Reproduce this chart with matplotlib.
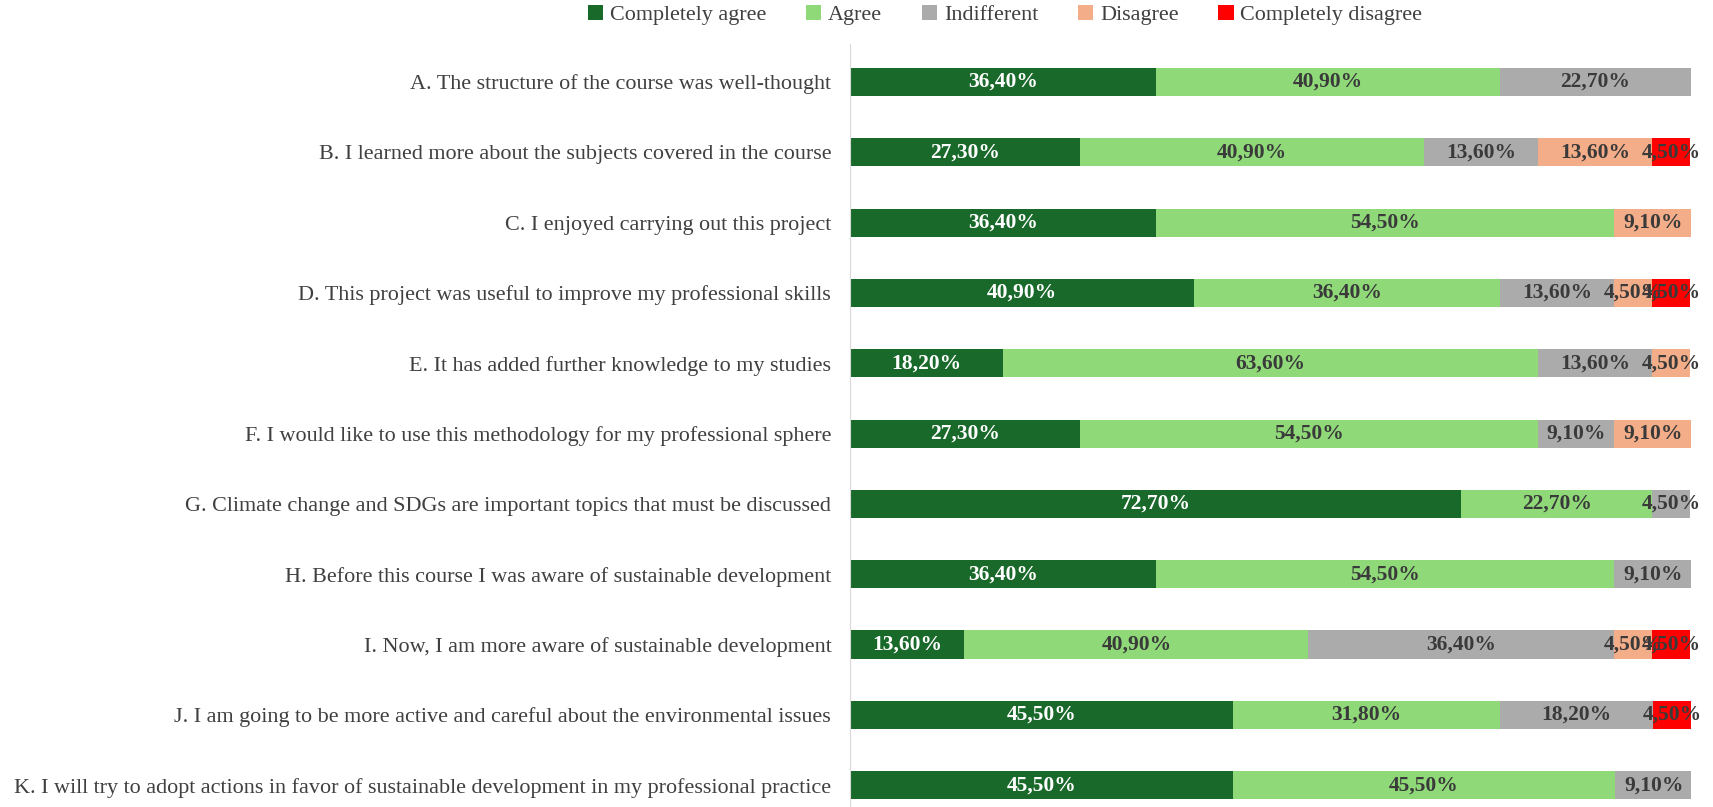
import matplotlib
matplotlib.use("Agg")
import matplotlib.pyplot as plt
import numpy as np

plt.rcParams['font.family'] = ['Liberation Serif', 'DejaVu Serif']

questions = [
    "A. The structure of the course was well-thought",
    "B. I learned more about the subjects covered in the course",
    "C. I enjoyed carrying out this project",
    "D. This project was useful to improve my professional skills",
    "E. It has added further knowledge to my studies",
    "F. I would like to use this methodology for my professional sphere",
    "G. Climate change and SDGs are important topics that must be discussed",
    "H. Before this course I was aware of sustainable development",
    "I. Now, I am more aware of sustainable development",
    "J. I am going to be more active and careful about the environmental issues",
    "K. I will try to adopt actions in favor of sustainable development in my professional practice",
]
categories = ["Completely agree", "Agree", "Indifferent", "Disagree", "Completely disagree"]

completely_agree = [36.4, 27.3, 36.4, 40.9, 18.2, 27.3, 72.7, 36.4, 13.6, 45.5, 45.5]
agree = [40.9, 40.9, 54.5, 36.4, 63.6, 54.5, 22.7, 54.5, 40.9, 31.8, 45.5]
indifferent = [22.7, 13.6, 0, 13.6, 13.6, 9.1, 4.5, 9.1, 36.4, 18.2, 9.1]
disagree = [0, 13.6, 9.1, 4.5, 4.5, 9.1, 0, 0, 4.5, 0, 0]
completely_disagree = [0, 4.5, 0, 4.5, 0, 0, 0, 0, 4.5, 4.5, 0]

colors = ["#19692a", "#8fd979", "#ababab", "#f3ad88", "#ff0000"]
text_colors = ["white", "#3a3a3a", "#3a3a3a", "#3a3a3a", "#3a3a3a"]

series = [completely_agree, agree, indifferent, disagree, completely_disagree]

fig = plt.figure(figsize=(17.13, 8.07), dpi=100)
ax = fig.add_axes([850 / 1713, 0.0, (1691 - 850) / 1713, 1 - 44 / 807])

y = np.arange(len(questions))
left = np.zeros(len(questions))
handles = []
for vals, col, tcol, name in zip(series, colors, text_colors, categories):
    vals = np.array(vals)
    h = ax.barh(y, vals, left=left, height=0.4, color=col, label=name)
    handles.append(h)
    for yi, v, l in zip(y, vals, left):
        if v > 0:
            ax.text(l + v / 2, yi, ("%.2f%%" % v).replace(".", ","),
                    ha="center", va="center", color=tcol,
                    fontsize=15.5, fontweight="bold")
    left = left + vals

ax.set_xlim(0, 100)
ax.set_ylim(10.31, -0.54)
ax.set_yticks(y)
ax.set_yticklabels(questions, fontsize=15.9, color="#404040")
ax.tick_params(axis="y", length=0, pad=13.5)
ax.set_xticks([])
for s in ["top", "right", "bottom"]:
    ax.spines[s].set_visible(False)
ax.spines["left"].set_color("#d9d9d9")

fig.legend(handles, categories, loc="center", bbox_to_anchor=(1005 / 1713, 1 - 15 / 807),
           ncol=5, frameon=False, fontsize=15.9, handlelength=0.7, handleheight=0.7,
           columnspacing=1.8, handletextpad=0.3, labelcolor="#404040")

fig.savefig("out.png", dpi=100)
